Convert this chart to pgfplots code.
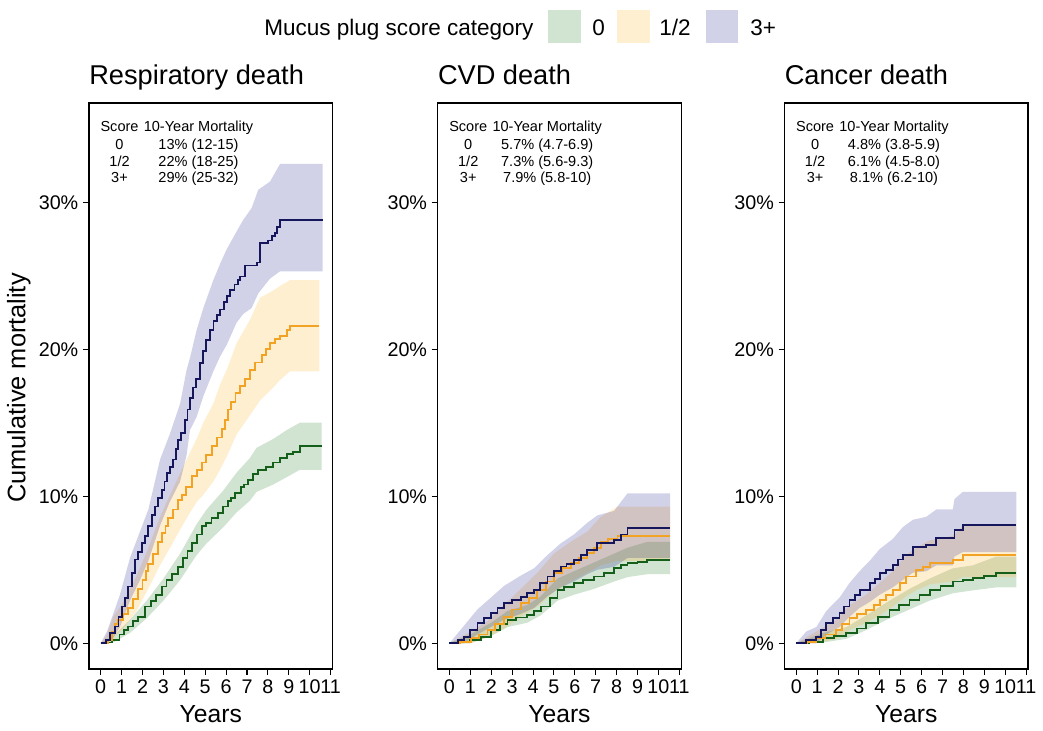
\documentclass[border=0pt]{standalone}
\usepackage{fontspec}
\setmainfont{Liberation Sans}
\usepackage{pgfplots}
\pgfplotsset{compat=1.18}
\usepgfplotslibrary{fillbetween}
\usepackage{pgfplotstable}

\definecolor{lgreen}{RGB}{20,95,25}
\definecolor{lorange}{RGB}{242,163,35}
\definecolor{lnavy}{RGB}{22,22,92}
\definecolor{bgreen}{RGB}{0,100,0}
\definecolor{borange}{RGB}{255,165,0}
\definecolor{bnavy}{RGB}{0,0,128}
\definecolor{kgreen}{RGB}{209,227,209}
\definecolor{korange}{RGB}{255,239,209}
\definecolor{knavy}{RGB}{209,209,232}

% ---------------- Respiratory death ----------------
\pgfplotstableread{
t v
0 0
0.3 0.05
0.53 0.24
0.9 0.6
1.1 0.9
1.32 1.14
1.55 1.5
1.8 1.8
2.12 2.5
2.4 2.9
2.65 3.3
2.92 3.86
3.15 4.3
3.4 4.7
3.71 5.2
3.95 5.8
4.15 6.3
4.35 6.8
4.6 7.4
4.83 7.95
5.05 8.2
5.3 8.5
5.63 8.86
5.87 9.3
6.1 9.7
6.25 9.9
6.43 10.2
6.7 10.6
6.85 10.8
7.06 11.1
7.3 11.5
7.54 11.8
7.9 12.0
8.26 12.3
8.6 12.6
8.9 12.9
9.2 13.0
9.53 13.4
10.57 13.4
}\rA
\pgfplotstableread{
t lo hi
0 0 0
0.6 0.05 0.5
1.4 0.7 1.6
2.2 1.7 2.9
3.0 2.9 4.4
3.8 4.3 6.1
4.59 6.0 8.1
5.07 6.8 9.1
5.87 7.9 10.4
6.5 8.9 11.6
7.14 9.7 12.6
7.46 10.3 13.3
8.26 10.8 13.9
8.9 11.3 14.5
9.53 11.8 15.0
10.57 11.8 15.0
}\rAb
\pgfplotstableread{
t v
0 0
0.36 0.24
0.55 0.8
0.7 1.3
0.84 1.6
1.05 2.0
1.32 2.4
1.55 3.0
1.8 3.7
2.0 4.3
2.15 4.9
2.28 5.4
2.5 6.1
2.76 6.9
2.95 7.5
3.1 8.0
3.23 8.5
3.45 9.1
3.71 9.76
3.9 10.1
4.1 10.6
4.35 11.35
4.6 11.8
4.83 12.3
5.05 12.8
5.31 13.4
5.55 14.0
5.79 14.6
5.95 15.2
6.1 15.9
6.25 16.4
6.45 17.0
6.67 17.5
6.9 18.0
7.14 18.6
7.4 19.1
7.7 19.6
7.9 20.0
8.1 20.4
8.35 20.7
8.58 20.9
8.9 21.3
9.06 21.6
10.46 21.6
}\rB
\pgfplotstableread{
t lo hi
0 0 0
0.3 0 0.6
0.6 0.4 1.8
1.08 1.0 2.8
1.72 2.2 4.6
2.2 3.5 6.2
2.84 5.3 8.6
3.32 6.5 10.1
3.71 7.5 11.3
4.11 8.5 12.5
4.59 9.6 13.9
4.91 10.1 15.0
5.39 11.0 16.3
5.71 11.8 17.6
6.03 12.7 18.6
6.5 14.2 20.4
7.14 15.5 22.0
7.62 16.5 23.5
8.26 17.4 24.0
8.58 17.9 24.3
9.06 18.5 24.7
10.46 18.5 24.7
}\rBb
\pgfplotstableread{
t v
0 0
0.25 0.2
0.45 0.7
0.68 1.14
0.85 1.8
1.0 2.5
1.15 3.1
1.32 3.86
1.5 4.8
1.64 5.7
1.8 6.2
1.96 6.8
2.12 7.3
2.28 7.95
2.45 8.7
2.6 9.3
2.76 9.9
2.92 10.4
3.05 11.0
3.16 11.6
3.3 12.0
3.47 12.5
3.6 13.2
3.71 13.8
3.85 14.3
4.03 15.2
4.15 15.9
4.27 16.7
4.4 17.4
4.55 18.0
4.75 19.06
4.9 19.9
5.05 20.6
5.23 21.3
5.4 21.9
5.55 22.3
5.71 22.7
5.9 23.2
6.05 23.6
6.19 24.0
6.4 24.4
6.55 24.7
6.67 24.95
6.9 25.7
7.46 25.9
7.62 27.2
8.02 27.4
8.2 27.7
8.34 27.9
8.45 28.3
8.58 28.8
10.62 28.8
}\rC
\pgfplotstableread{
t lo hi
0 0 0
0.3 0 0.8
0.6 0.4 2.0
0.92 1.1 3.3
1.4 2.9 5.8
1.88 4.3 7.6
2.28 5.6 9.1
2.84 8.0 12.5
3.3 9.6 14.2
3.8 11.0 16.3
4.11 12.8 18.6
4.27 14.5 19.4
4.59 15.4 21.3
4.91 16.8 22.8
5.39 18.5 24.7
5.71 19.5 25.8
6.03 20.3 26.8
6.5 21.8 28.0
6.82 22.4 28.8
7.22 22.8 29.6
7.54 23.8 30.85
8.1 24.8 31.4
8.58 25.3 32.6
10.62 25.3 32.6
}\rCb

% ---------------- CVD death ----------------
\pgfplotstableread{
t v
0 0
0.5 0.05
1.0 0.25
1.5 0.45
2.0 0.9
2.4 1.3
2.78 1.6
3.2 1.75
3.73 1.93
4.05 2.2
4.37 2.5
4.8 3.1
5.17 3.63
5.5 3.85
5.96 4.1
6.4 4.3
6.92 4.54
7.4 4.8
7.88 5.1
8.2 5.3
8.52 5.44
9.0 5.5
9.47 5.67
10.56 5.67
}\cA
\pgfplotstableread{
t lo hi
0 0 0
1.0 0.0 0.6
2.0 0.5 1.4
2.78 1.1 2.2
3.73 1.4 2.6
4.37 1.9 3.2
5.17 2.9 4.4
5.96 3.3 4.9
6.92 3.7 5.5
7.88 4.2 6.1
8.52 4.5 6.5
9.47 4.7 6.9
10.56 4.7 6.9
}\cAb
\pgfplotstableread{
t v
0 0
0.5 0.1
1.02 0.34
1.4 0.6
1.82 0.9
2.2 1.3
2.61 1.8
3.0 2.3
3.41 2.72
3.8 3.1
4.21 3.63
4.6 4.2
5.0 4.76
5.4 5.1
5.8 5.44
6.2 5.8
6.6 6.12
6.9 6.5
7.24 6.9
7.6 7.1
8.04 7.3
10.56 7.3
}\cB
\pgfplotstableread{
t lo hi
0 0 0
1.02 0.0 0.8
1.82 0.4 1.5
2.61 1.0 2.6
3.41 1.8 3.7
4.21 2.5 4.8
5.0 3.5 6.1
5.8 4.2 6.9
6.6 4.8 7.6
7.24 5.3 8.6
8.04 5.6 9.3
10.56 5.6 9.3
}\cBb
\pgfplotstableread{
t v
0 0
0.4 0.2
0.7 0.45
1.0 0.9
1.34 1.36
1.65 1.7
1.98 2.04
2.3 2.4
2.61 2.72
3.0 2.95
3.41 3.17
3.7 3.4
4.05 3.63
4.35 4.1
4.69 4.54
5.0 4.9
5.33 5.22
5.6 5.4
5.96 5.67
6.3 6.0
6.6 6.35
7.08 6.8
7.88 7.03
8.2 7.4
8.52 7.82
10.56 7.82
}\cC
\pgfplotstableread{
t lo hi
0 0 0
0.7 0.0 1.2
1.34 0.6 2.3
1.98 1.1 3.1
2.61 1.6 3.9
3.41 2.0 4.6
4.05 2.4 5.1
4.69 3.2 6.0
5.33 3.8 6.8
5.96 4.2 7.4
6.6 4.7 8.2
7.08 5.0 8.7
7.88 5.2 9.0
8.52 5.8 10.2
10.56 5.8 10.2
}\cCb

% ---------------- Cancer death ----------------
\pgfplotstableread{
t v
0 0
0.6 0.1
1.27 0.34
1.8 0.5
2.39 0.68
2.9 1.0
3.35 1.36
3.9 1.8
4.46 2.27
4.9 2.6
5.42 2.95
5.9 3.3
6.38 3.63
6.9 3.9
7.49 4.2
8.0 4.3
8.45 4.42
9.0 4.6
9.57 4.76
10.53 4.76
}\kA
\pgfplotstableread{
t lo hi
0 0 0
1.27 0.05 0.7
2.39 0.3 1.1
3.35 0.9 1.9
4.46 1.7 2.9
5.42 2.3 3.7
6.38 2.9 4.4
7.49 3.4 5.1
8.45 3.6 5.3
9.57 3.8 5.9
10.53 3.8 5.9
}\kAb
\pgfplotstableread{
t v
0 0
0.5 0.1
0.96 0.34
1.4 0.6
1.91 0.9
2.2 1.3
2.55 1.7
2.9 2.0
3.35 2.27
3.7 2.6
3.99 2.95
4.3 3.3
4.62 3.63
4.95 4.1
5.26 4.54
5.74 5.0
6.05 5.2
6.38 5.44
7.49 5.67
7.97 6.01
10.53 6.01
}\kB
\pgfplotstableread{
t lo hi
0 0 0
0.96 0 0.8
1.91 0.3 1.6
2.55 0.9 2.6
3.35 1.4 3.3
3.99 1.9 4.1
4.62 2.5 4.9
5.26 3.2 6.0
5.74 3.6 6.5
6.38 4.0 7.0
7.49 4.2 7.3
7.97 4.5 8.0
10.53 4.5 8.0
}\kBb
\pgfplotstableread{
t v
0 0
0.48 0.22
0.96 0.45
1.2 0.9
1.44 1.36
1.75 1.7
2.07 2.04
2.3 2.5
2.55 2.95
2.8 3.3
3.03 3.63
3.51 4.08
3.75 4.4
3.99 4.76
4.3 5.0
4.62 5.33
4.85 5.7
5.1 6.01
5.58 6.53
6.22 6.69
6.7 7.14
7.49 7.14
7.57 7.71
7.97 8.05
10.53 8.05
}\kC
\pgfplotstableread{
t lo hi
0 0 0
0.48 0 0.8
0.96 0 1.1
1.44 0.6 2.2
2.07 1.1 3.1
2.55 1.8 4.1
3.03 2.4 4.9
3.51 2.8 5.6
3.99 3.3 6.4
4.62 3.8 7.1
5.1 4.3 7.9
5.58 4.8 8.4
6.22 4.9 8.6
6.7 5.3 9.1
7.49 5.3 9.1
7.57 5.9 9.8
7.97 6.2 10.3
10.53 6.2 10.3
}\kCb

\newcommand{\band}[3]{%
  \addplot[draw=none, name path=#3u, forget plot] table[x=t,y=hi]{#1};
  \addplot[draw=none, name path=#3l, forget plot] table[x=t,y=lo]{#1};
  \addplot[fill=#2, fill opacity=0.18, draw=none, forget plot] fill between[of=#3u and #3l];
}
\newcommand{\curve}[2]{\addplot[#2, line width=1.4pt, const plot, forget plot] table[x=t,y=v]{#1};}

\pgfplotsset{
  panel/.style={
    scale only axis, width=182.6pt, height=424.5pt,
    anchor=south west,
    xmin=-0.56, xmax=11.09, ymin=-1.75, ymax=36.75,
    axis line style={black, line width=0.8pt},
    xtick={0,1,2,3,4,5,6,7,8,9,10,11},
    xticklabels={0,1,2,3,4,5,6,7,8,9,10,11},
    ytick={0,10,20,30}, yticklabels={0\%,10\%,20\%,30\%},
    tick align=outside, major tick length=4.5pt,
    tick style={black, line width=0.8pt},
    tick pos=left,
    ticklabel style={font=\fontsize{14.8}{17}\selectfont},
    xlabel={Years},
    xlabel style={font=\fontsize{18.5}{21}\selectfont, at={(rel axis cs:0.5,0)}, anchor=base, yshift=-40.3pt},
  }
}
\newcommand{\anno}{\fontsize{10.9}{12}\selectfont}
\newcommand{\annot}[4]{%
  \node[anchor=base, font=\anno] at ([xshift=22.9pt, yshift=-21.75pt]#1.north west) {Score};
  \node[anchor=base, font=\anno] at ([xshift=82.1pt, yshift=-21.75pt]#1.north west) {10-Year Mortality};
  \node[anchor=base, font=\anno] at ([xshift=22.9pt, yshift=-35.25pt]#1.north west) {0};
  \node[anchor=base, font=\anno] at ([xshift=82.1pt, yshift=-35.25pt]#1.north west) {#2};
  \node[anchor=base, font=\anno] at ([xshift=22.9pt, yshift=-47.6pt]#1.north west) {1/2};
  \node[anchor=base, font=\anno] at ([xshift=82.1pt, yshift=-47.6pt]#1.north west) {#3};
  \node[anchor=base, font=\anno] at ([xshift=22.9pt, yshift=-60pt]#1.north west) {3+};
  \node[anchor=base, font=\anno] at ([xshift=82.1pt, yshift=-60pt]#1.north west) {#4};
}

\begin{document}
\begin{tikzpicture}
\path (0,0) rectangle (782.25pt,548.25pt);

\begin{axis}[panel, name=p1, at={(66.75pt,46.5pt)}]
  \band{\rAb}{bgreen}{ra}
  \band{\rBb}{borange}{rb}
  \band{\rCb}{bnavy}{rc}
  \curve{\rA}{lgreen}
  \curve{\rB}{lorange}
  \curve{\rC}{lnavy}
\end{axis}

\begin{axis}[panel, name=p2, at={(328.3pt,46.5pt)}]
  \band{\cAb}{bgreen}{ca}
  \band{\cBb}{borange}{cb}
  \band{\cCb}{bnavy}{cc}
  \curve{\cA}{lgreen}
  \curve{\cB}{lorange}
  \curve{\cC}{lnavy}
\end{axis}

\begin{axis}[panel, name=p3, at={(588.4pt,46.5pt)}]
  \band{\kAb}{bgreen}{ka}
  \band{\kBb}{borange}{kb}
  \band{\kCb}{bnavy}{kc}
  \curve{\kA}{lgreen}
  \curve{\kB}{lorange}
  \curve{\kC}{lnavy}
\end{axis}

\annot{p1}{13\% (12-15)}{22\% (18-25)}{29\% (25-32)}
\annot{p2}{5.7\% (4.7-6.9)}{7.3\% (5.6-9.3)}{7.9\% (5.8-10)}
\annot{p3}{4.8\% (3.8-5.9)}{6.1\% (4.5-8.0)}{8.1\% (6.2-10)}

% titles
\node[anchor=base west, inner sep=0pt, font=\fontsize{20.4}{24}\selectfont] at (66.75pt,484.5pt) {Respiratory death};
\node[anchor=base west, inner sep=0pt, font=\fontsize{20.4}{24}\selectfont] at (328.3pt,484.5pt) {CVD death};
\node[anchor=base west, inner sep=0pt, font=\fontsize{20.4}{24}\selectfont] at (588.4pt,484.5pt) {Cancer death};

% y label
\node[anchor=base, rotate=90, inner sep=0pt, font=\fontsize{19}{22}\selectfont] at (19pt,257.25pt) {Cumulative mortality};

% legend
\node[anchor=base west, inner sep=0pt, font=\fontsize{16.9}{20}\selectfont] at (198pt,521.25pt) {Mucus plug score category};
\fill[kgreen] (411pt,516pt) rectangle (435.75pt,540.75pt);
\fill[korange] (462.75pt,516pt) rectangle (487.5pt,540.75pt);
\fill[knavy] (529.5pt,516pt) rectangle (553.5pt,540.75pt);
\node[anchor=base west, inner sep=0pt, font=\fontsize{16.9}{20}\selectfont] at (444pt,521.25pt) {0};
\node[anchor=base west, inner sep=0pt, font=\fontsize{16.9}{20}\selectfont] at (494.25pt,521.25pt) {1/2};
\node[anchor=base west, inner sep=0pt, font=\fontsize{16.9}{20}\selectfont] at (562.5pt,521.25pt) {3+};
\end{tikzpicture}
\end{document}
